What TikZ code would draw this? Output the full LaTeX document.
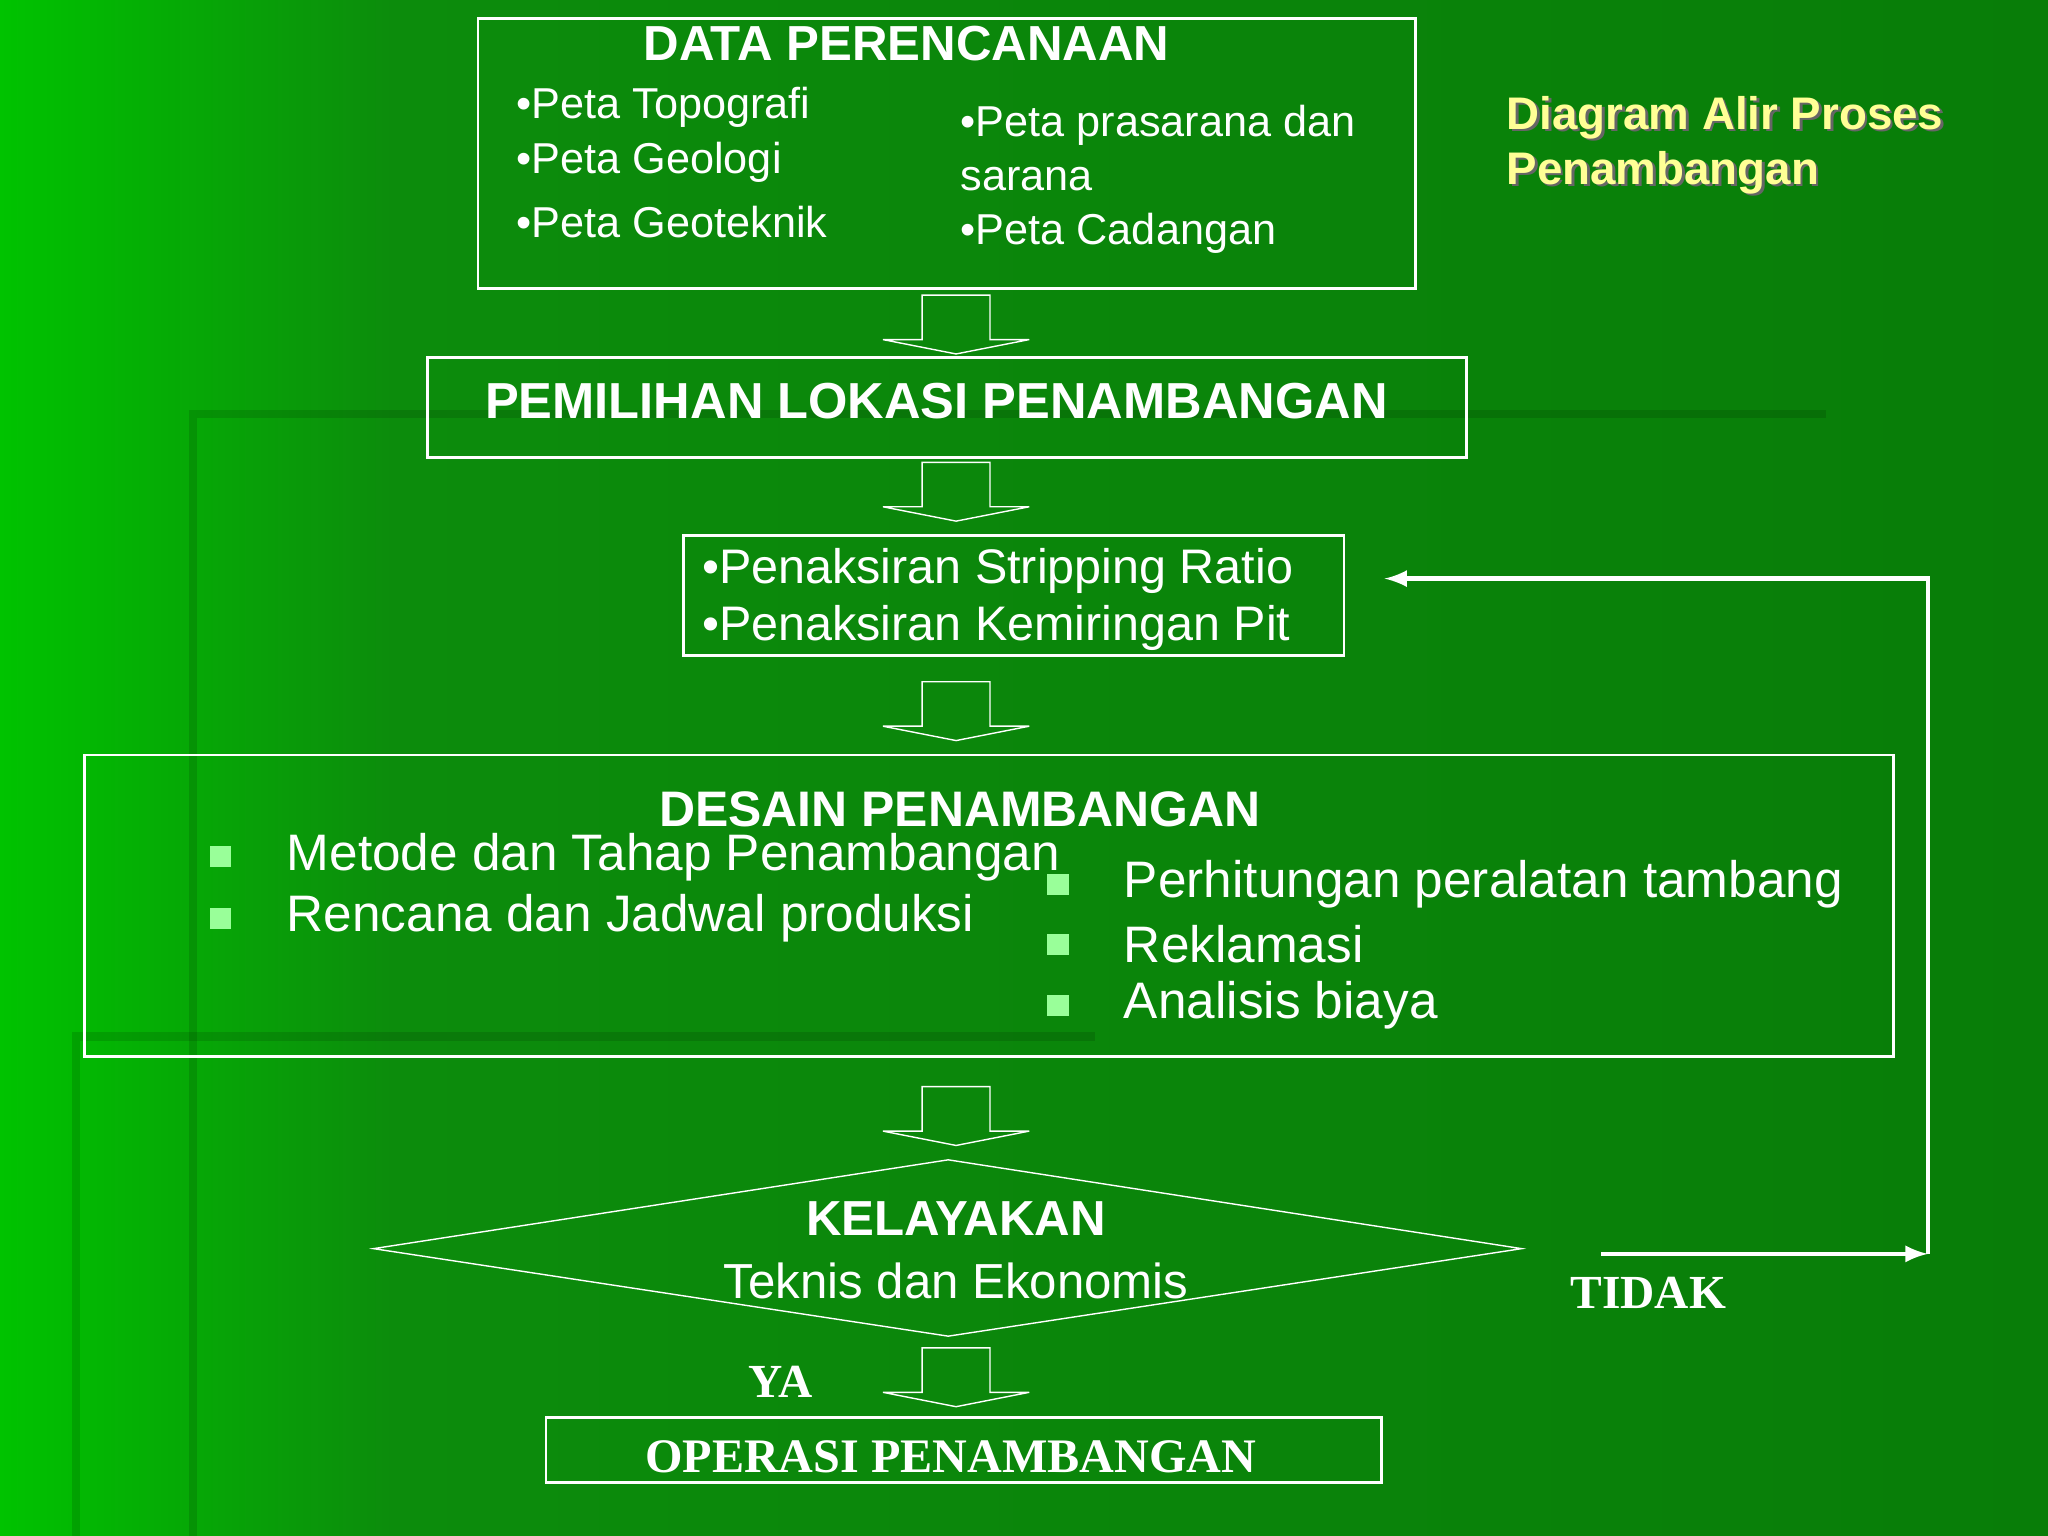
\documentclass[tikz,border=0pt]{standalone}
\usepackage{fontspec}
\setmainfont{Liberation Sans}
\newfontfamily\timesfont{Liberation Serif}
\usetikzlibrary{positioning}
\definecolor{bgdark}{RGB}{8,125,8}
\definecolor{bgmid}{RGB}{12,140,12}
\definecolor{bglight}{RGB}{0,195,0}
\definecolor{titleyellow}{RGB}{255,255,150}
\newcommand{\fs}[1]{\fontsize{#1}{1.2\dimexpr#1\relax}\selectfont}
% hollow block arrow pointing down, top edge at y=#1
\newcommand{\blockarrow}[1]{%
  \draw[white] (706,#1) -- (758,#1) -- (758,#1+34) -- (788,#1+34) -- (732,#1+45)
    -- (676,#1+34) -- (706,#1+34) -- cycle;}
\tikzset{
  box/.style={draw=white, thick},
  txt/.style={text=white, inner sep=0pt},
  sq/.style={fill=white!60!green, minimum size=6pt, inner sep=0pt}
}
\begin{document}
\begin{tikzpicture}[x=0.013061cm, y=-0.013061cm]
    % background
    \fill[bgdark] (0,0) rectangle (1568,1176);
    \shade[left color=bglight, right color=bgmid] (0,0) rectangle (300,1176);
    \shade[left color=bgmid, right color=bgdark] (300,0) rectangle (1568,1176);
    \useasboundingbox (0,0) rectangle (1568,1176);
    \fill[black, opacity=0.12] (145,314) rectangle (1398,320);
    \fill[black, opacity=0.12] (145,320) rectangle (151,1176);
    \fill[black, opacity=0.12] (55,790) rectangle (838,797);
    \fill[black, opacity=0.12] (55,797) rectangle (61,1176);

    % title
    \node[txt, text=black!60, anchor=west, align=left, font=\bfseries\fs{13pt}] at (1155,113)
        {Diagram Alir Proses\\Penambangan};
    \node[txt, text=titleyellow, anchor=west, align=left, font=\bfseries\fs{13pt}] (title) at (1153,111)
        {Diagram Alir Proses\\Penambangan};

    % Data perencanaan
    \draw[box] (366,14) rectangle (1084,221);
    \node[txt, font=\bfseries\fs{14pt}] (data) at (694,33) {DATA PERENCANAAN};
    \node[txt, anchor=west, font=\fs{12.3pt}] (topo) at (395,82) {•Peta Topografi};
    \node[txt, anchor=west, font=\fs{12.3pt}] (geol) at (395,124) {•Peta Geologi};
    \node[txt, anchor=west, font=\fs{12.3pt}] (geot) at (395,170) {•Peta Geoteknik};
    \node[txt, anchor=west, font=\fs{12.3pt}] (pras) at (735,96) {•Peta prasarana dan};
    \node[txt, anchor=west, font=\fs{12.3pt}] (sara) at (735,137) {sarana};
    \node[txt, anchor=west, font=\fs{12.3pt}] (cada) at (735,179) {•Peta Cadangan};
    \blockarrow{226}

    % Pemilihan lokasi
    \draw[box] (327,274) rectangle (1123,350);
    \node[txt, font=\bfseries\fs{14.4pt}] (lokasi) at (717,307) {PEMILIHAN LOKASI PENAMBANGAN};
    \blockarrow{354}

    % Penaksiran
    \draw[box] (523,410) rectangle (1029,502);
    \node[txt, anchor=west, font=\fs{13.8pt}] (strip) at (537,437) {•Penaksiran Stripping Ratio};
    \node[txt, anchor=west, font=\fs{13.8pt}] (miring) at (537,481) {•Penaksiran Kemiringan Pit};
    \blockarrow{522}

    % Desain penambangan
    \draw[box] (65,578) rectangle (1450,809);
    \node[txt, font=\bfseries\fs{14.2pt}] (desain) at (735,620) {DESAIN PENAMBANGAN};
    \foreach \y/\t in {656/Metode dan Tahap Penambangan, 703/Rencana dan Jadwal produksi} {
        \node[sq] at (169,\y) {};
        \node[txt, anchor=west, font=\fs{14.6pt}] at (219,\y) {\t};
    }
    \foreach \y/\t in {677/Perhitungan peralatan tambang, 723/Reklamasi, 770/Analisis biaya} {
        \node[sq] at (810,\y) {};
        \node[txt, anchor=west, font=\fs{14.6pt}] at (860,\y) {\t};
    }
    \blockarrow{832}

    % Kelayakan
    \draw[box, thin] (286,956) -- (726,888) -- (1165,956) -- (726,1023) -- cycle;
    \node[txt, font=\bfseries\fs{14pt}] (layak) at (732,933) {KELAYAKAN};
    \node[txt, font=\fs{14pt}] (tekno) at (732,981) {Teknis dan Ekonomis};
    \blockarrow{1032}
    \node[txt, font=\timesfont\bfseries\fs{13.5pt}] (ya) at (598,1058) {YA};
    \node[txt, font=\timesfont\bfseries\fs{13.5pt}] (tidak) at (1262,990) {TIDAK};

    % feedback
    \coordinate (fb1) at (1226,960);
    \coordinate (fb2) at (1476,960);
    \coordinate (fb3) at (1476,443);
    \coordinate (fb4) at (1060,443);
    \draw[white, very thick, -latex] (fb1) -- (fb2);
    \draw[white, very thick, -latex] (fb2) -- (fb3) -- (fb4);

    % Operasi
    \draw[box] (418,1085) rectangle (1058,1135);
    \node[txt, font=\timesfont\bfseries\fs{13.7pt}] (operasi) at (728,1115) {OPERASI PENAMBANGAN};
\end{tikzpicture}
\end{document}
